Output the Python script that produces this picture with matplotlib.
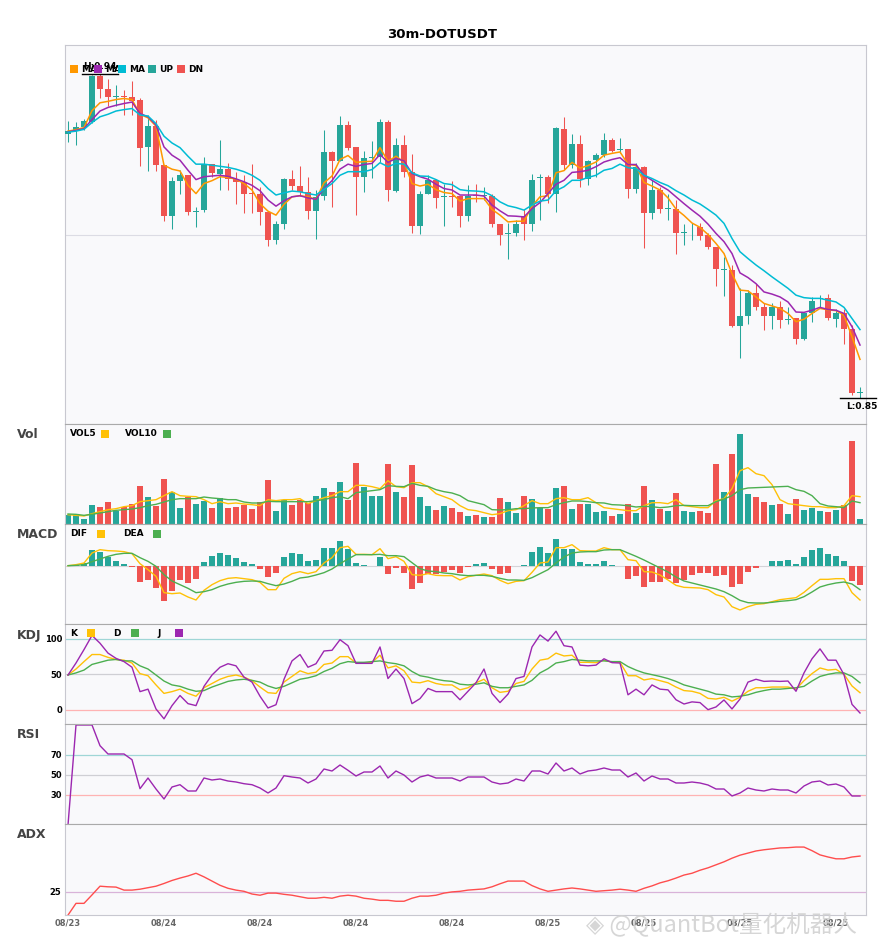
import matplotlib
matplotlib.use("Agg")
import matplotlib.pyplot as plt
import numpy as np

title = "30m-DOTUSDT"

# ---- candles (30m) ----
opens = [0.9237, 0.9246, 0.9255, 0.9270, 0.9398, 0.9361, 0.9339, 0.9342, 0.9338, 0.9330,
         0.9200, 0.9258, 0.9149, 0.9008, 0.9105, 0.9121, 0.9020, 0.9024, 0.9152, 0.9124,
         0.9138, 0.9112, 0.9103, 0.9069, 0.9068, 0.9019, 0.8940, 0.8985, 0.9110, 0.9091,
         0.9075, 0.9022, 0.9063, 0.9185, 0.9161, 0.9261, 0.9199, 0.9117, 0.9170, 0.9171,
         0.9269, 0.9078, 0.9205, 0.9131, 0.8980, 0.9070, 0.9109, 0.9060, 0.9062, 0.9063,
         0.9008, 0.9065, 0.9063, 0.9063, 0.8985, 0.8957, 0.8961, 0.9008, 0.8985, 0.9114,
         0.9117, 0.9068, 0.9251, 0.9149, 0.9208, 0.9110, 0.9163, 0.9177, 0.9219, 0.9192,
         0.9193, 0.9082, 0.9145, 0.9016, 0.9081, 0.9027, 0.9028, 0.8961, 0.8970, 0.8976,
         0.8954, 0.8920, 0.8858, 0.8857, 0.8701, 0.8728, 0.8792, 0.8753, 0.8729, 0.8753,
         0.8718, 0.8722, 0.8664, 0.8736, 0.8776, 0.8778, 0.8720, 0.8738, 0.8694, 0.8515]
highs = [0.9272, 0.9270, 0.9279, 0.9400, 0.9402, 0.9389, 0.9372, 0.9358, 0.9383, 0.9335,
         0.9290, 0.9275, 0.9150, 0.9115, 0.9137, 0.9122, 0.9033, 0.9172, 0.9153, 0.9219,
         0.9156, 0.9131, 0.9121, 0.9152, 0.9089, 0.9020, 0.8993, 0.9113, 0.9135, 0.9146,
         0.9117, 0.9081, 0.9247, 0.9188, 0.9286, 0.9272, 0.9200, 0.9188, 0.9216, 0.9279,
         0.9276, 0.9226, 0.9233, 0.9180, 0.9077, 0.9123, 0.9110, 0.9098, 0.9104, 0.9064,
         0.9093, 0.9098, 0.9089, 0.9070, 0.8986, 0.8987, 0.8996, 0.9028, 0.9124, 0.9124,
         0.9121, 0.9255, 0.9282, 0.9237, 0.9233, 0.9163, 0.9182, 0.9239, 0.9226, 0.9224,
         0.9194, 0.9156, 0.9148, 0.9107, 0.9089, 0.9070, 0.9052, 0.8985, 0.8987, 0.8987,
         0.8959, 0.8921, 0.8894, 0.8871, 0.8806, 0.8801, 0.8818, 0.8764, 0.8764, 0.8771,
         0.8754, 0.8723, 0.8738, 0.8782, 0.8787, 0.8790, 0.8749, 0.8749, 0.8703, 0.8530]
lows = [0.9214, 0.9205, 0.9247, 0.9268, 0.9335, 0.9314, 0.9314, 0.9289, 0.9289, 0.9146,
        0.9133, 0.9133, 0.8993, 0.8971, 0.9068, 0.9010, 0.8977, 0.9019, 0.9117, 0.9080,
        0.9080, 0.9042, 0.9015, 0.9015, 0.8982, 0.8924, 0.8929, 0.8971, 0.9080, 0.9063,
        0.8999, 0.8943, 0.9052, 0.9033, 0.9160, 0.9191, 0.9010, 0.9075, 0.9114, 0.9159,
        0.9049, 0.9075, 0.9117, 0.8959, 0.8957, 0.9069, 0.9031, 0.8980, 0.9033, 0.8976,
        0.8995, 0.9047, 0.9052, 0.8977, 0.8926, 0.8887, 0.8951, 0.8940, 0.8966, 0.8996,
        0.9044, 0.9019, 0.9135, 0.9140, 0.9089, 0.9093, 0.9117, 0.9172, 0.9186, 0.9182,
        0.9058, 0.9073, 0.8919, 0.8999, 0.9016, 0.8996, 0.8903, 0.8926, 0.8940, 0.8940,
        0.8915, 0.8813, 0.8785, 0.8697, 0.8612, 0.8708, 0.8745, 0.8689, 0.8692, 0.8696,
        0.8706, 0.8650, 0.8662, 0.8713, 0.8754, 0.8719, 0.8697, 0.8652, 0.8510, 0.8501]
closes = [0.9244, 0.9255, 0.9272, 0.9398, 0.9361, 0.9340, 0.9341, 0.9340, 0.9328, 0.9198,
          0.9258, 0.9149, 0.9008, 0.9105, 0.9121, 0.9019, 0.9022, 0.9152, 0.9128, 0.9138,
          0.9112, 0.9103, 0.9068, 0.9068, 0.9019, 0.8940, 0.8985, 0.9110, 0.9091, 0.9075,
          0.9022, 0.9061, 0.9185, 0.9161, 0.9261, 0.9198, 0.9115, 0.9170, 0.9171, 0.9269,
          0.9080, 0.9205, 0.9131, 0.8980, 0.9070, 0.9109, 0.9058, 0.9061, 0.9061, 0.9008,
          0.9063, 0.9064, 0.9064, 0.8985, 0.8954, 0.8959, 0.8985, 0.8985, 0.9109, 0.9115,
          0.9068, 0.9254, 0.9149, 0.9208, 0.9110, 0.9160, 0.9177, 0.9219, 0.9188, 0.9193,
          0.9082, 0.9145, 0.9016, 0.9080, 0.9026, 0.9028, 0.8959, 0.8962, 0.8971, 0.8951,
          0.8920, 0.8859, 0.8859, 0.8701, 0.8728, 0.8792, 0.8753, 0.8729, 0.8753, 0.8719,
          0.8719, 0.8664, 0.8736, 0.8771, 0.8777, 0.8724, 0.8738, 0.8694, 0.8515, 0.8516]

# moving averages as drawn on the chart
ma_fast = [0.9244, 0.9248, 0.9254, 0.9301, 0.9323, 0.9327, 0.9332, 0.9335, 0.9332, 0.9291,
           0.9281, 0.9258, 0.9149, 0.9138, 0.9133, 0.9093, 0.9070, 0.9098, 0.9106, 0.9117,
           0.9115, 0.9110, 0.9098, 0.9080, 0.9042, 0.9021, 0.9010, 0.9040, 0.9061, 0.9064,
           0.9061, 0.9054, 0.9100, 0.9119, 0.9165, 0.9176, 0.9157, 0.9159, 0.9160, 0.9198,
           0.9160, 0.9174, 0.9158, 0.9098, 0.9091, 0.9096, 0.9081, 0.9073, 0.9070, 0.9049,
           0.9056, 0.9056, 0.9056, 0.9026, 0.9010, 0.8991, 0.8993, 0.8993, 0.9035, 0.9061,
           0.9064, 0.9128, 0.9134, 0.9157, 0.9141, 0.9148, 0.9158, 0.9177, 0.9182, 0.9186,
           0.9152, 0.9148, 0.9101, 0.9091, 0.9080, 0.9058, 0.9027, 0.9009, 0.8988, 0.8976,
           0.8956, 0.8931, 0.8903, 0.8847, 0.8801, 0.8799, 0.8782, 0.8764, 0.8757, 0.8750,
           0.8736, 0.8713, 0.8720, 0.8736, 0.8750, 0.8746, 0.8744, 0.8731, 0.8671, 0.8608]
ma_mid = [0.9242, 0.9246, 0.9251, 0.9276, 0.9300, 0.9310, 0.9316, 0.9321, 0.9325, 0.9293,
          0.9284, 0.9261, 0.9200, 0.9177, 0.9163, 0.9135, 0.9109, 0.9117, 0.9119, 0.9121,
          0.9118, 0.9111, 0.9103, 0.9093, 0.9078, 0.9052, 0.9035, 0.9050, 0.9061, 0.9064,
          0.9058, 0.9054, 0.9084, 0.9106, 0.9138, 0.9152, 0.9146, 0.9151, 0.9154, 0.9179,
          0.9157, 0.9168, 0.9161, 0.9126, 0.9117, 0.9110, 0.9096, 0.9084, 0.9080, 0.9066,
          0.9066, 0.9066, 0.9063, 0.9038, 0.9022, 0.9008, 0.9007, 0.9005, 0.9028, 0.9045,
          0.9070, 0.9096, 0.9107, 0.9129, 0.9131, 0.9135, 0.9145, 0.9158, 0.9165, 0.9170,
          0.9151, 0.9151, 0.9121, 0.9107, 0.9093, 0.9080, 0.9061, 0.9042, 0.9024, 0.9007,
          0.8985, 0.8959, 0.8936, 0.8903, 0.8849, 0.8836, 0.8819, 0.8796, 0.8790, 0.8782,
          0.8768, 0.8740, 0.8739, 0.8745, 0.8753, 0.8747, 0.8745, 0.8736, 0.8699, 0.8648]
ma_slow = [0.9241, 0.9244, 0.9249, 0.9268, 0.9284, 0.9291, 0.9300, 0.9304, 0.9307, 0.9289,
           0.9286, 0.9265, 0.9230, 0.9211, 0.9198, 0.9174, 0.9152, 0.9152, 0.9149, 0.9146,
           0.9143, 0.9138, 0.9131, 0.9121, 0.9107, 0.9084, 0.9066, 0.9072, 0.9077, 0.9075,
           0.9070, 0.9066, 0.9082, 0.9098, 0.9121, 0.9131, 0.9131, 0.9131, 0.9137, 0.9156,
           0.9145, 0.9154, 0.9152, 0.9128, 0.9119, 0.9118, 0.9109, 0.9098, 0.9095, 0.9081,
           0.9078, 0.9077, 0.9075, 0.9064, 0.9047, 0.9036, 0.9031, 0.9024, 0.9038, 0.9049,
           0.9052, 0.9078, 0.9089, 0.9107, 0.9107, 0.9115, 0.9121, 0.9135, 0.9140, 0.9152,
           0.9142, 0.9140, 0.9121, 0.9112, 0.9101, 0.9092, 0.9078, 0.9066, 0.9052, 0.9041,
           0.9026, 0.9010, 0.8987, 0.8945, 0.8908, 0.8889, 0.8871, 0.8855, 0.8838, 0.8822,
           0.8806, 0.8787, 0.8780, 0.8778, 0.8778, 0.8773, 0.8768, 0.8753, 0.8722, 0.8691]

# ---- volume ----
vol = [28, 28, 16, 58, 52, 67, 40, 52, 61, 115, 82, 55, 136, 97, 49, 82, 61, 70, 49, 79,
       49, 52, 58, 46, 67, 133, 40, 73, 58, 73, 64, 85, 109, 97, 127, 73, 184, 112, 85, 85,
       181, 97, 82, 178, 82, 55, 43, 55, 49, 37, 25, 28, 22, 22, 79, 67, 34, 85, 76, 49,
       46, 109, 115, 46, 61, 61, 37, 40, 25, 31, 61, 34, 115, 73, 46, 40, 94, 40, 37, 40,
       34, 181, 97, 211, 271, 91, 82, 67, 58, 61, 31, 76, 43, 49, 40, 37, 43, 58, 250, 16]
vol5 = [28, 26, 24, 31, 37, 43, 46, 52, 55, 67, 70, 73, 85, 97, 85, 83, 82, 73, 61, 67,
        61, 63, 60, 58, 55, 73, 70, 73, 73, 76, 61, 70, 79, 85, 97, 97, 116, 116, 112, 106,
        130, 112, 109, 124, 124, 112, 91, 82, 73, 55, 43, 40, 34, 28, 31, 40, 43, 55, 70, 61,
        61, 76, 79, 73, 73, 79, 64, 49, 46, 43, 40, 40, 55, 64, 64, 61, 73, 55, 52, 49,
        49, 70, 76, 106, 160, 169, 151, 145, 118, 73, 61, 58, 55, 52, 52, 49, 49, 55, 85, 82]
vol10 = [30, 29, 26, 29, 33, 37, 41, 43, 45, 49, 55, 59, 66, 73, 76, 76, 76, 81, 78, 76,
         73, 73, 66, 63, 63, 68, 67, 67, 67, 67, 67, 70, 73, 79, 82, 76, 94, 97, 100, 103,
         115, 113, 112, 122, 116, 113, 103, 97, 93, 85, 70, 64, 58, 43, 42, 43, 46, 46, 48, 49,
         49, 58, 64, 69, 69, 67, 64, 63, 58, 57, 55, 51, 53, 52, 49, 51, 55, 56, 55, 55,
         55, 67, 75, 85, 103, 108, 109, 110, 111, 112, 113, 103, 98, 85, 61, 54, 52, 49, 69, 64]

# ---- MACD (x1e-5) ----
macd_hist = [0, 2, 8, 48, 42, 27, 15, 6, -3, -48, -42, -66, -105, -75, -42, -51, -39, 12, 30, 39,
             33, 24, 12, 6, -9, -33, -21, 27, 39, 36, 15, 18, 54, 54, 75, 51, 9, 3, 0, 27,
             -24, -6, -21, -69, -51, -24, -24, -18, -12, -21, -3, 6, 9, -9, -24, -21, 0, 3, 42, 57,
             39, 81, 51, 51, 12, 6, 6, 15, 3, 0, -39, -30, -63, -48, -48, -39, -51, -42, -27, -21,
             -21, -30, -27, -63, -54, -18, -6, 0, 15, 15, 18, 6, 27, 48, 54, 36, 30, 15, -45, -57]
dif = [0, 3, 8, 38, 48, 45, 44, 42, 36, 6, -12, -32, -81, -84, -82, -94, -103, -74, -57, -45,
       -38, -36, -39, -42, -50, -72, -72, -38, -24, -18, -24, -18, 8, 24, 54, 58, 34, 34, 33, 51,
       21, 27, 13, -27, -29, -24, -29, -30, -30, -43, -33, -29, -25, -30, -44, -54, -47, -45, -20, 8,
       11, 54, 54, 63, 45, 44, 44, 54, 48, 48, 18, 15, -18, -19, -28, -43, -59, -65, -66, -67,
       -72, -87, -94, -123, -133, -123, -116, -114, -108, -102, -99, -96, -80, -60, -41, -41, -39, -39, -81, -103]
dea = [0, 1, 3, 12, 20, 28, 34, 37, 37, 24, 13, -2, -27, -46, -57, -68, -81, -78, -72, -62,
       -55, -50, -47, -46, -47, -54, -60, -55, -47, -37, -34, -28, -21, -10, 6, 20, 33, 33, 33, 34,
       30, 30, 27, 9, -9, -16, -18, -22, -24, -28, -30, -29, -29, -32, -38, -43, -43, -44, -36, -24,
       -12, 8, 26, 38, 41, 42, 42, 47, 48, 48, 38, 28, 17, 5, -7, -19, -34, -46, -52, -58,
       -64, -70, -78, -90, -104, -111, -112, -112, -110, -107, -105, -102, -93, -79, -64, -57, -52, -49, -55, -72]

# ---- KDJ ----
k_line = [49, 57.5, 68, 78, 78, 74, 71, 70, 66, 51, 48, 35, 23, 25.5, 29, 23, 19, 31, 37, 43,
          47, 49, 46, 41, 32, 24, 23, 39, 47, 55, 51, 53, 64, 66, 75, 75, 66, 66, 67, 77,
          59, 62, 55, 39, 38, 41, 37, 35, 35, 28, 31, 38, 43, 31, 24.5, 26, 37, 40, 57.5, 70,
          72, 80, 76, 77, 67, 67, 66.5, 70, 67, 67, 48, 48, 42, 44, 41, 38, 32, 27, 26, 23,
          16, 15, 17.5, 12, 17.5, 26, 31, 31, 32, 32, 32, 29, 41, 51, 59, 56, 57, 50, 33.5, 24]
d_line = [49, 52, 56, 64, 67, 70, 71, 69, 69, 62, 57.5, 49, 40.5, 35, 33, 29, 26, 27, 32, 36,
          40, 42, 43, 41.5, 39, 33.5, 30, 33, 38, 43, 45, 48, 54, 58.5, 65, 68, 67, 67, 68, 69,
          66.5, 65, 62, 54, 48, 46, 43, 41, 40, 36, 35, 36, 38, 33, 31, 31, 33, 35, 41.5, 52,
          58, 66, 68, 71, 70, 69, 69, 69, 68, 68, 61, 56, 52, 49.5, 47, 44, 40, 35, 32, 29,
          26, 22, 21, 18, 19, 21, 24.5, 27, 29, 29, 30, 31, 33, 40.5, 47, 50, 52, 52, 47, 38]
j_line = [49, 66, 85, 105, 94, 80, 72.6, 68, 60, 25.5, 29, 1, -13, 5.7, 20, 8.5, 5.7, 33, 49, 60,
          65, 62, 46, 39, 19, 2.4, 7, 43, 69, 78, 60, 65, 83, 84, 99, 90.5, 65.5, 65.5, 65.5, 88.7,
          44, 57.5, 44, 8.5, 15.6, 30, 25.5, 25.5, 25.5, 14, 26, 38, 57.5, 23, 10, 22, 44, 47, 88.7, 105.7,
          97, 111, 90.5, 88.7, 63, 62, 63, 72, 66.5, 66, 21, 29, 21, 35, 29, 28, 14, 8, 11, 10,
          0, 3.8, 13.7, 1, 15, 39, 43, 40, 40.5, 40, 40.5, 26, 52, 72, 86, 70, 70, 49.5, 7.5, -4.7]

# ---- RSI ----
rsi = [0, 100, 100, 100, 79.3, 71, 71, 71, 65.3, 36.3, 47, 36, 26, 38, 40.3, 34, 34, 47, 45, 46,
       44, 43, 41.3, 40.3, 37, 32, 37, 49.3, 48, 47, 42, 46, 56, 54, 60, 54.7, 49, 53, 53, 59,
       47, 54, 50, 43, 48, 50, 47, 47, 47, 44, 48, 48, 48, 43, 41, 42, 46, 44, 54, 54,
       51, 62, 54, 57, 51, 54, 55, 57, 55, 55, 48, 52, 44, 49, 46, 46, 42, 42, 43, 42,
       40, 36, 36, 29, 32, 37, 35, 34, 36, 35, 35, 32, 39, 43, 44, 40, 41, 38, 29, 29]

# ---- ADX ----
adx = [17.3, 21.2, 21.2, 24, 26.9, 26.7, 26.6, 25.6, 25.6, 25.9, 26.4, 26.9, 27.8, 28.8, 29.6, 30.3, 31.2, 30, 28.6, 27.2,
       26.2, 25.6, 25.2, 24.3, 23.9, 24.6, 24.6, 24.2, 23.9, 23.4, 22.9, 22.9, 23.2, 22.9, 23.6, 23.9, 23.6, 22.9, 22.6, 22.2,
       22.2, 21.9, 21.9, 22.9, 23.6, 23.6, 23.9, 24.6, 25, 25.2, 25.6, 25.8, 26, 26.7, 27.7, 28.6, 28.6, 28.6, 27.1, 26,
       25.2, 25.6, 26, 26.3, 26, 25.6, 25.2, 25.4, 25.6, 25.9, 25.6, 25.2, 26.2, 27, 28, 28.7, 29.6, 30.6, 31.2, 32.2,
       33, 34, 35, 36.2, 37.2, 37.9, 38.6, 39, 39.3, 39.6, 39.7, 39.9, 39.9, 38.7, 37.3, 36.6, 36, 36, 36.6, 36.9]

tick_pos = [0, 12, 24, 36, 48, 60, 72, 84, 96]
tick_labels = ["08/23", "08/24", "08/24", "08/24", "08/24", "08/25", "08/25", "08/25", "08/25"]

UP = "#26a69a"
DN = "#ef5350"
BG = "#f9f9fb"
YEL = "#ffc107"
GRN = "#4caf50"
PUR = "#9c27b0"

W, H = 885.0, 950.0
fig = plt.figure(figsize=(8.85, 9.5), dpi=100)


def box(top, bot):
    return [65 / W, 1 - bot / H, 801 / W, (bot - top) / H]


ax_k = fig.add_axes(box(45, 424))
ax_v = fig.add_axes(box(424, 524), sharex=ax_k)
ax_m = fig.add_axes(box(524, 624), sharex=ax_k)
ax_j = fig.add_axes(box(624, 724), sharex=ax_k)
ax_r = fig.add_axes(box(724, 824), sharex=ax_k)
ax_a = fig.add_axes(box(824, 915), sharex=ax_k)
axes = [ax_k, ax_v, ax_m, ax_j, ax_r, ax_a]

for i, ax in enumerate(axes):
    ax.set_facecolor(BG)
    for s in ax.spines.values():
        s.set_color("#c8c8d0")
        s.set_linewidth(0.8)
    if i > 0:
        ax.spines["top"].set_color("#aaaaaa")
    ax.tick_params(length=0, labelbottom=False, labelleft=False)
    ax.set_yticks([])

x = np.arange(len(closes))
o = np.array(opens)
c = np.array(closes)
hi = np.array(highs)
lo = np.array(lows)
cols = np.where(c >= o, UP, DN)

# candles
ax_k.vlines(x, lo, hi, colors=cols, lw=0.75, zorder=2)
ax_k.bar(x, np.maximum(np.abs(c - o), 0.00025), 0.72, bottom=np.minimum(o, c),
         color=cols, lw=0, zorder=3)
ax_k.plot(x, ma_fast, color="#ff9800", lw=1.1, zorder=4)
ax_k.plot(x, ma_mid, color=PUR, lw=1.1, zorder=4)
ax_k.plot(x, ma_slow, color="#00bcd4", lw=1.1, zorder=4)
ax_k.set_ylim(0.8428, 0.9484)
ax_k.axhline(sum(ax_k.get_ylim()) / 2, color="#dcdce4", lw=0.8, zorder=0)

ih = int(np.argmax(hi))
ax_k.plot([ih - 2.3, ih + 2.3], [hi[ih], hi[ih]], color="black", lw=1, zorder=6)
ax_k.annotate("H:%.2f" % hi[ih], (ih, hi[ih]), xytext=(0, 2.5), textcoords="offset points",
              ha="center", va="bottom", fontsize=6.5, fontweight="bold", zorder=7)
il = int(np.argmin(lo))
ax_k.plot([il - 2.5, il + 2], [lo[il], lo[il]], color="black", lw=1, zorder=6, clip_on=False)
ax_k.annotate("L:%.2f" % lo[il], (il + 0.2, lo[il]), xytext=(0, -3), textcoords="offset points",
              ha="center", va="top", fontsize=6.5, fontweight="bold", annotation_clip=False)

# volume
ax_v.bar(x, vol, 0.75, color=cols, lw=0)
ax_v.plot(x, vol5, color=YEL, lw=1.0)
ax_v.plot(x, vol10, color=GRN, lw=1.0)
ax_v.set_ylim(0, 300)

# macd
ax_m.axhline(0, color="#d4d4d8", lw=0.8, zorder=0)
ax_m.bar(x, macd_hist, 0.75, color=[UP if v >= 0 else DN for v in macd_hist], lw=0)
ax_m.plot(x, dif, color=YEL, lw=1.0)
ax_m.plot(x, dea, color=GRN, lw=1.0)
ax_m.set_ylim(-175, 125)

# kdj
for lv, lc in [(100, "#9fd6d6"), (50, "#cfcfd4"), (0, "#ffb3b3")]:
    ax_j.axhline(lv, color=lc, lw=0.9, zorder=0)
ax_j.plot(x, k_line, color=YEL, lw=1.0)
ax_j.plot(x, d_line, color=GRN, lw=1.0)
ax_j.plot(x, j_line, color=PUR, lw=1.0)
ax_j.set_ylim(-20.3, 121.2)
ax_j.set_yticks([0, 50, 100], labels=["0", "50", "100"], fontsize=6, fontweight="bold")

# rsi
for lv, lc in [(70, "#9fd6d6"), (50, "#cfcfd4"), (30, "#ffb3b3")]:
    ax_r.axhline(lv, color=lc, lw=0.9, zorder=0)
ax_r.plot(x, rsi, color=PUR, lw=1.0)
ax_r.set_ylim(1, 101)
ax_r.set_yticks([30, 50, 70], labels=["30", "50", "70"], fontsize=6, fontweight="bold")

# adx
ax_a.axhline(25, color="#d9b3d9", lw=0.9, zorder=0)
ax_a.plot(x, adx, color="#ff4d4d", lw=1.0)
ax_a.set_ylim(17.33, 47.56)
ax_a.set_yticks([25], labels=["25"], fontsize=6, fontweight="bold")

for ax in [ax_j, ax_r, ax_a]:
    ax.tick_params(labelleft=True, pad=2)

ax_k.set_xlim(-0.375, 99.75)
ax_a.set_xticks(tick_pos)
ax_a.set_xticklabels(tick_labels, fontsize=6, fontweight="bold", color="#666666")
ax_a.tick_params(labelbottom=True, pad=2.5)

# title and panel names
fig.text(0.5, 1 - 34 / H, title, ha="center", va="center", fontsize=9.5, fontweight="bold")
for name, yp in [("Vol", 435), ("MACD", 535), ("KDJ", 635), ("RSI", 735), ("ADX", 835)]:
    fig.text(17 / W, 1 - yp / H, name, ha="left", va="center", fontsize=9,
             fontweight="bold", color="#444444")


def sq(xp, yp, col):
    fig.add_artist(plt.Rectangle((xp / W, 1 - (yp + 4) / H), 8 / W, 8 / H,
                                 transform=fig.transFigure, color=col, lw=0, zorder=5))


def lab(xp, yp, s):
    fig.text(xp / W, 1 - yp / H, s, ha="left", va="center", fontsize=6.5,
             fontweight="bold", zorder=4)


# main legend
for xp, col, s in [(70, "#ff9800", "MA"), (94, PUR, "MA"), (118, "#00bcd4", "MA"),
                   (148, UP, "UP"), (177, DN, "DN")]:
    lab(xp + 11, 69, s)
for xp, col in [(70, "#ff9800"), (94, PUR), (118, "#00bcd4"), (148, UP), (177, DN)]:
    sq(xp, 69, col)

# sub legends
lab(70, 434, "VOL5"); sq(101, 434, YEL); lab(125, 434, "VOL10"); sq(163, 434, GRN)
lab(70, 534, "DIF"); sq(97, 534, YEL); lab(123, 534, "DEA"); sq(153, 534, GRN)
lab(70, 633, "K"); sq(87, 633, YEL); lab(113, 633, "D"); sq(131, 633, GRN)
lab(157, 633, "J"); sq(175, 633, PUR)

# watermark
fig.text(586 / W, 1 - 925 / H, "◈ @QuantBot量化机器人", ha="left", va="center", fontsize=17,
         color="#d2d2d2", alpha=0.9, family=["Noto Sans CJK SC", "DejaVu Sans"], zorder=10)

fig.savefig("out.png", dpi=100, facecolor="white")
